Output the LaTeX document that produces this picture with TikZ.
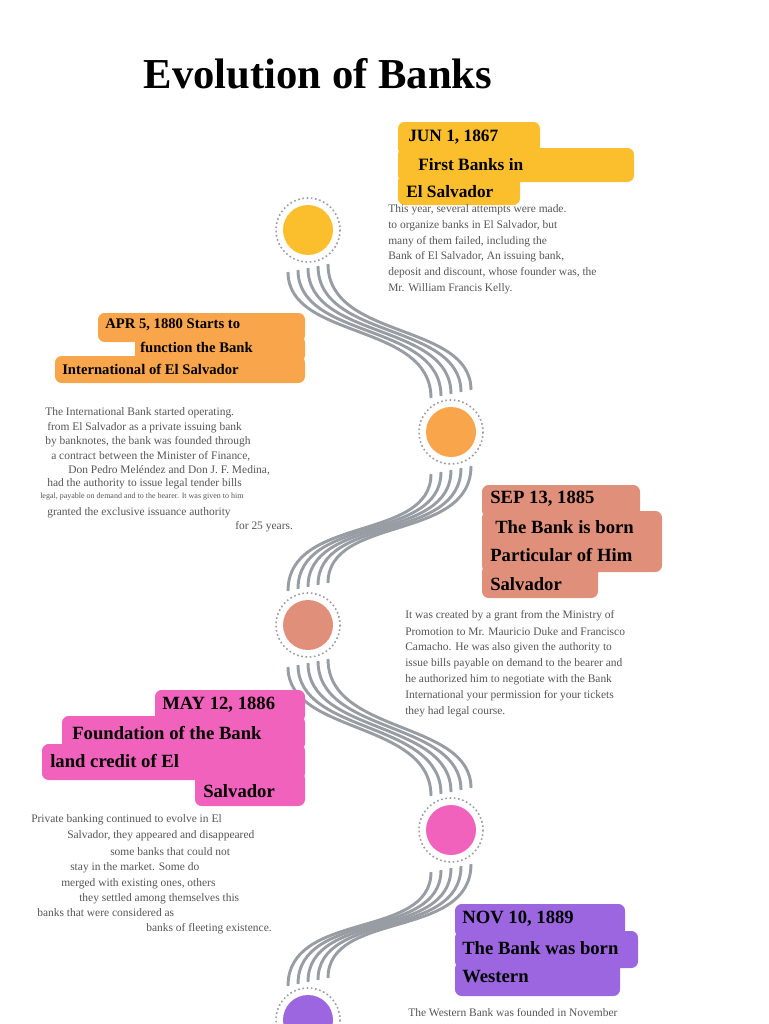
\documentclass[tikz,border=0pt]{standalone}
\usepackage{fontspec}
\setmainfont{Liberation Serif}
\usetikzlibrary{calc}
\definecolor{cyellow}{HTML}{FBBF2E}
\definecolor{corange}{HTML}{F9A54B}
\definecolor{csalmon}{HTML}{E0907A}
\definecolor{cpink}{HTML}{F062BC}
\definecolor{cpurple}{HTML}{9B66E0}
\definecolor{cwave}{HTML}{979DA3}
\definecolor{ctext}{HTML}{555555}
\tikzset{
  head/.style={anchor=west,font=\bfseries\fontsize{13}{13}\selectfont,inner sep=0pt},
  body/.style={anchor=west,text=ctext,font=\fontsize{8.6}{9}\selectfont,inner sep=0pt},
  wave/.style={cwave,line width=2.2pt},
  ring/.style={cwave,dotted,line width=1.2pt}
}
\begin{document}
\begin{tikzpicture}[x=0.75pt,y=-0.75pt]
    \useasboundingbox (0,0) rectangle (768,1024);
    \node[anchor=center,font=\bfseries\fontsize{32}{32}\selectfont] (title) at (318,74) {Evolution of Banks};
    % circles
    \foreach \n/\x/\y/\c in {ca/308/230/cyellow,cb/451/432/corange,cc/308/625/csalmon,cd/451/830/cpink,ce/308/1020/cpurple} {
        \fill[\c] (\x,\y) circle (25);
        \draw[ring] (\x,\y) circle (32);
        \coordinate (\n) at (\x,\y);
    }
    % waves
    \foreach \a/\b in {ca/cb,cb/cc,cc/cd,cd/ce} {
        \foreach \i in {-2,...,2} {
            \draw[wave] ($(\a)+(\i*10,38-\i*2)$) .. controls ($(\a)+(\i*10,110)$) and ($(\b)+(\i*10,-110)$) .. ($(\b)+(\i*10,-38-\i*2)$);
        }
    }
    % boxes
    \fill[cyellow,rounded corners=5pt] (398,122) rectangle (540,155) (398,148) rectangle (634,182) (398,175) rectangle (520,205);
    \fill[corange,rounded corners=5pt] (98,313) rectangle (305,342) (135,336) rectangle (305,362) (55,356) rectangle (305,383);
    \fill[csalmon,rounded corners=5pt] (482,485) rectangle (640,517) (482,511) rectangle (662,572) (482,565) rectangle (598,598);
    \fill[cpink,rounded corners=5pt] (155,690) rectangle (305,722) (62,716) rectangle (305,750) (42,744) rectangle (305,780) (195,772) rectangle (305,806);
    \fill[cpurple,rounded corners=5pt] (455,904) rectangle (625,937) (455,931) rectangle (638,968) (455,962) rectangle (620,996);
    % headings
    \node[head] (h1a) at (408,137) {JUN 1, 1867};
    \node[head] (h1b) at (418,165) {First Banks in};
    \node[head] (h1c) at (406,192) {El Salvador};
    \node[head,font=\bfseries\fontsize{11}{11}\selectfont] (h2a) at (105,325) {APR 5, 1880 Starts to};
    \node[head,font=\bfseries\fontsize{11}{11}\selectfont] (h2b) at (140,347) {function the Bank};
    \node[head,font=\bfseries\fontsize{11}{11}\selectfont] (h2c) at (62,369) {International of El Salvador};
    \node[head,font=\bfseries\fontsize{14}{14}\selectfont] (h3a) at (490,499) {SEP 13, 1885};
    \node[head,font=\bfseries\fontsize{14}{14}\selectfont] (h3b) at (495,527) {The Bank is born};
    \node[head,font=\bfseries\fontsize{14}{14}\selectfont] (h3c) at (490,555) {Particular of Him};
    \node[head,font=\bfseries\fontsize{14}{14}\selectfont] (h3d) at (490,584) {Salvador};
    \node[head,font=\bfseries\fontsize{14}{14}\selectfont] (h4a) at (162,705) {MAY 12, 1886};
    \node[head,font=\bfseries\fontsize{14}{14}\selectfont] (h4b) at (72,733) {Foundation of the Bank};
    \node[head,font=\bfseries\fontsize{14}{14}\selectfont] (h4c) at (50,761) {land credit of El};
    \node[head,font=\bfseries\fontsize{14}{14}\selectfont] (h4d) at (203,791) {Salvador};
    \node[head,font=\bfseries\fontsize{14}{14}\selectfont] (h5a) at (462,919) {NOV 10, 1889};
    \node[head,font=\bfseries\fontsize{14}{14}\selectfont] (h5b) at (462,948) {The Bank was born};
    \node[head,font=\bfseries\fontsize{14}{14}\selectfont] (h5c) at (462,977) {Western};
    % body texts
    \foreach \x/\y/\t in {388/210/{This year, several attempts were made.},388/226/{to organize banks in El Salvador, but},388/242/{many of them failed, including the},388/257/{Bank of El Salvador, An issuing bank,},388/273/{deposit and discount, whose founder was, the},388/289/{Mr. William Francis Kelly.}} {
        \node[body] at (\x,\y) {\t};
    }
    \foreach \x/\y/\t in {45/413/{The International Bank started operating.},47/428/{from El Salvador as a private issuing bank},45/442/{by banknotes, the bank was founded through},51/456/{a contract between the Minister of Finance,},68/470/{Don Pedro Meléndez and Don J. F. Medina,},47/484/{had the authority to issue legal tender bills},47/513/{granted the exclusive issuance authority},235/527/{for 25 years.}} {
        \node[body] at (\x,\y) {\t};
    }
    \node[body,font=\fontsize{6}{6}\selectfont] (b2g) at (40,497) {legal, payable on demand and to the bearer. It was given to him};
    \foreach \x/\y/\t in {405/616/{It was created by a grant from the Ministry of},405/632/{Promotion to Mr. Mauricio Duke and Francisco},405/648/{Camacho. He was also given the authority to},405/664/{issue bills payable on demand to the bearer and},405/680/{he authorized him to negotiate with the Bank},405/696/{International your permission for your tickets},405/712/{they had legal course.}} {
        \node[body] at (\x,\y) {\t};
    }
    \foreach \x/\y/\t in {31/820/{Private banking continued to evolve in El},67/836/{Salvador, they appeared and disappeared},110/852/{some banks that could not},70/868/{stay in the market. Some do},61/884/{merged with existing ones, others},79/899/{they settled among themselves this},37/913/{banks that were considered as},146/929/{banks of fleeting existence.}} {
        \node[body] at (\x,\y) {\t};
    }
    \node[body] (b5a) at (408,1013) {The Western Bank was founded in November};
\end{tikzpicture}
\end{document}
